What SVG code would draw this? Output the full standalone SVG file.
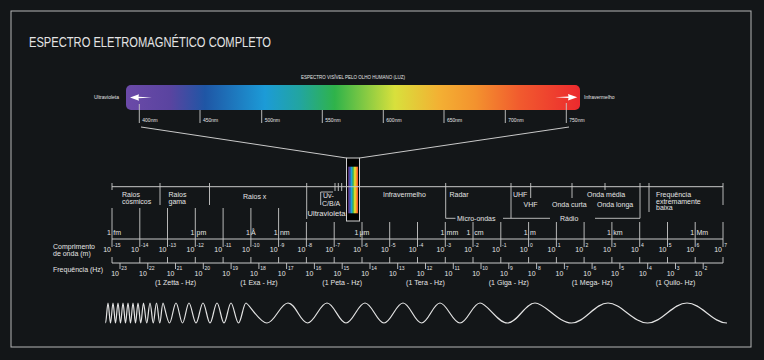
<svg xmlns="http://www.w3.org/2000/svg" width="764" height="360" viewBox="0 0 764 360">
<defs>
<style>
.t{font-family:"Liberation Sans",Arial,sans-serif;fill:#e4e4e4}
.s5{font-size:5px}
.s7{font-size:7px}
.e{font-size:5px}
.ln{stroke:#c9c9c9;stroke-width:1;fill:none}
.tk{stroke:#c9c9c9;stroke-width:0.9;fill:none}
</style>
<linearGradient id="vis" x1="0" y1="0" x2="1" y2="0">
<stop offset="0" stop-color="#6b4aa8"/>
<stop offset="0.097" stop-color="#5a44a0"/>
<stop offset="0.174" stop-color="#1f56a5"/>
<stop offset="0.306" stop-color="#1c9bd7"/>
<stop offset="0.383" stop-color="#22a5a0"/>
<stop offset="0.46" stop-color="#2fb34a"/>
<stop offset="0.592" stop-color="#d8e03c"/>
<stop offset="0.69" stop-color="#f3b033"/>
<stop offset="0.77" stop-color="#f3922e"/>
<stop offset="0.868" stop-color="#f15a2e"/>
<stop offset="1" stop-color="#ec2a2e"/>
</linearGradient>
<linearGradient id="rb" x1="0" y1="0" x2="1" y2="0">
<stop offset="0" stop-color="#7b3f9d"/>
<stop offset="0.17" stop-color="#3052a6"/>
<stop offset="0.33" stop-color="#1f9fd8"/>
<stop offset="0.5" stop-color="#3bb14a"/>
<stop offset="0.67" stop-color="#f2e42c"/>
<stop offset="0.83" stop-color="#f49a2a"/>
<stop offset="1" stop-color="#ef3f2b"/>
</linearGradient>
</defs>
<rect x="0" y="0" width="764" height="360" fill="#131618"/>
<rect x="11" y="11" width="740" height="336" fill="none" stroke="#b5b5b5" stroke-width="1"/>

<g id="title">
<text class="t" x="29" y="47" font-size="14" textLength="242" lengthAdjust="spacingAndGlyphs" fill="#f2f2f2">ESPECTRO ELETROMAGNÉTICO COMPLETO</text>
</g>

<g id="visible-spectrum">
<text class="t s5" x="301" y="79.3" textLength="104" lengthAdjust="spacingAndGlyphs">ESPECTRO VISÍVEL PELO OLHO HUMANO (LUZ)</text>
<rect x="126" y="85" width="454" height="25" rx="5" fill="url(#vis)"/>
<polygon points="152,97.5 138.5,96.7 139,94.3 130,97.5 139,100.7 138.5,98.3" fill="#ffffff"/>
<polygon points="555,97.3 568.5,96.5 568,94.1 577.3,97.3 568,100.5 568.5,98.1" fill="#ffffff"/>
<text class="t s5" x="94" y="99">Ultravioleta</text>
<text class="t s5" x="584" y="99">Infravermelho</text>
<g class="tk">
<line x1="139.3" y1="104" x2="139.3" y2="123"/>
<line x1="200" y1="110" x2="200" y2="123"/>
<line x1="261.7" y1="110" x2="261.7" y2="123"/>
<line x1="322.3" y1="110" x2="322.3" y2="123"/>
<line x1="383.3" y1="110" x2="383.3" y2="123"/>
<line x1="444" y1="110" x2="444" y2="123"/>
<line x1="505.3" y1="110" x2="505.3" y2="123"/>
<line x1="566.3" y1="103" x2="566.3" y2="123"/>
</g>
<text class="t s5" x="142.3" y="121.7">400nm</text>
<text class="t s5" x="203" y="121.7">450nm</text>
<text class="t s5" x="264.7" y="121.7">500nm</text>
<text class="t s5" x="325.3" y="121.7">550nm</text>
<text class="t s5" x="386.3" y="121.7">600nm</text>
<text class="t s5" x="447" y="121.7">650nm</text>
<text class="t s5" x="508.3" y="121.7">700nm</text>
<text class="t s5" x="569.3" y="121.7">750nm</text>
</g>

<g id="prism">
<rect x="346.5" y="158" width="13" height="63" fill="#000" stroke="#cfcfcf" stroke-width="1"/>
<rect x="348.3" y="166.7" width="9.7" height="46.6" fill="url(#rb)"/>
</g>

<g id="connectors">
<line class="ln" x1="141" y1="127" x2="346.5" y2="158"/>
<line class="ln" x1="569" y1="127" x2="359.5" y2="158"/>
<line class="ln" x1="112" y1="186.7" x2="723" y2="186.7"/>
<g class="tk">
<line x1="112" y1="183" x2="112" y2="190"/>
<line x1="160" y1="183" x2="160" y2="205"/>
<line x1="209.5" y1="183" x2="209.5" y2="205"/>
<line x1="306.7" y1="183" x2="306.7" y2="219"/>
<line x1="335" y1="183" x2="335" y2="191"/>
<line x1="338.3" y1="183" x2="338.3" y2="191"/>
<line x1="341.7" y1="183" x2="341.7" y2="191"/>
<path d="M333,192 H320.7 V205"/>
<path d="M445.7,183 V218.3 H455.5"/>
<path d="M503,218.3 H511 V183"/>
<line x1="511" y1="218.3" x2="550" y2="218.3"/>
<path d="M595,218.3 H640 V183"/>
<line x1="530.7" y1="183" x2="530.7" y2="198"/>
<line x1="572" y1="183" x2="572" y2="198"/>
<line x1="605" y1="183" x2="605" y2="190"/>
<line x1="649" y1="183" x2="649" y2="212"/>
<line x1="723" y1="183" x2="723" y2="205"/>
</g>
<line class="ln" x1="112" y1="239" x2="723" y2="239"/>
<line class="ln" x1="112" y1="263" x2="723" y2="263"/>
<g class="tk">
<path d="M112,208V247M139.8,208V247M167.5,208V247M195.3,208V247M223.1,208V247M250.9,208V247M278.6,208V247M306.4,222V247M334.2,222V247M362,222V247M389.7,222V247M417.5,222V247M445.3,222V247M473,222V247M500.8,222V247M528.6,222V247M556.4,222V247M584.1,222V247M611.9,222V247M639.7,222V247M667.5,222V247M695.2,222V247M723,222V247"/>
<path d="M112,257V263M139.8,257V263M167.5,257V263M195.3,257V263M223.1,257V263M250.9,257V263M278.6,257V263M306.4,257V263M334.2,257V263M362,257V263M389.7,257V263M417.5,257V263M445.3,257V263M473,257V263M500.8,257V263M528.6,257V263M556.4,257V263M584.1,257V263M611.9,257V263M639.7,257V263M667.5,257V263M695.2,257V263M723,257V263"/>
<path d="M120,263V269M147.8,263V269M175.5,263V269M203.3,263V269M231.1,263V269M258.9,263V269M286.6,263V269M314.4,263V269M342.2,263V269M370,263V269M397.7,263V269M425.5,263V269M453.3,263V269M481,263V269M508.8,263V269M536.6,263V269M564.4,263V269M592.1,263V269M619.9,263V269M647.7,263V269M675.5,263V269M703.2,263V269"/>
</g>
</g>

<g id="bands" class="t s7">
<g id="raios-cosmicos"><text x="122" y="197">Raios</text><text x="122" y="204">cósmicos</text></g>
<g id="raios-gama"><text x="168.5" y="197">Raios</text><text x="168.5" y="204">gama</text></g>
<g id="raios-x"><text x="243" y="199">Raios x</text></g>
<g id="uv-cba"><text x="323" y="198">Uv-</text><text x="322" y="205.5">C/B/A</text></g>
<g id="ultravioleta"><text x="307.5" y="216" textLength="38" lengthAdjust="spacingAndGlyphs">Ultravioleta</text></g>
<g id="infravermelho"><text x="383" y="197">Infravermelho</text></g>
<g id="radar"><text x="449.5" y="197">Radar</text></g>
<g id="micro-ondas"><text x="457" y="220.5">Micro-ondas</text></g>
<g id="uhf"><text x="513" y="197">UHF</text></g>
<g id="vhf"><text x="523.5" y="207">VHF</text></g>
<g id="onda-curta"><text x="552" y="207">Onda curta</text></g>
<g id="onda-media"><text x="587" y="197">Onda média</text></g>
<g id="onda-longa"><text x="597" y="207">Onda longa</text></g>
<g id="radio"><text x="560" y="220.5">Rádio</text></g>
<g id="freq-baixa"><text x="656" y="197">Frequência</text><text x="656" y="203.5">extremamente</text><text x="656" y="210">baixa</text></g>
</g>

<g id="units" class="t s7">
<text x="111" y="235" text-anchor="end">1</text><text x="113.3" y="235">fm</text>
<text x="194.3" y="235" text-anchor="end">1</text><text x="196.6" y="235">pm</text>
<text x="249.9" y="235" text-anchor="end">1</text><text x="251" y="235">Å</text>
<text x="277.6" y="235" text-anchor="end">1</text><text x="279.9" y="235">nm</text>
<text x="358.5" y="235" text-anchor="end">1</text><text x="359.5" y="235">μm</text>
<text x="444.3" y="235" text-anchor="end">1</text><text x="446.6" y="235">mm</text>
<text x="470.5" y="235" text-anchor="end">1</text><text x="474.3" y="235">cm</text>
<text x="527.6" y="235" text-anchor="end">1</text><text x="529.9" y="235">m</text>
<text x="610.9" y="235" text-anchor="end">1</text><text x="613.2" y="235">km</text>
<text x="694.2" y="235" text-anchor="end">1</text><text x="696.5" y="235">Mm</text>
</g>

<g id="wavelength-scale" class="t">
<text class="s7" x="53" y="249">Comprimento</text>
<text class="s7" x="53" y="255.5">de onda (m)</text>
<g class="s7" text-anchor="end">
<text x="111" y="252">10</text><text x="138.8" y="252">10</text><text x="166.5" y="252">10</text><text x="194.3" y="252">10</text><text x="222.1" y="252">10</text><text x="249.9" y="252">10</text><text x="277.6" y="252">10</text><text x="305.4" y="252">10</text><text x="333.2" y="252">10</text><text x="361" y="252">10</text><text x="388.7" y="252">10</text><text x="416.5" y="252">10</text><text x="444.3" y="252">10</text><text x="472" y="252">10</text><text x="499.8" y="252">10</text><text x="527.6" y="252">10</text><text x="555.4" y="252">10</text><text x="583.1" y="252">10</text><text x="610.9" y="252">10</text><text x="638.7" y="252">10</text><text x="666.5" y="252">10</text><text x="694.2" y="252">10</text><text x="722" y="252">10</text>
</g>
<g class="e">
<text x="113.3" y="246.5">-15</text><text x="141.1" y="246.5">-14</text><text x="168.8" y="246.5">-13</text><text x="196.6" y="246.5">-12</text><text x="224.4" y="246.5">-11</text><text x="252.2" y="246.5">-10</text><text x="279.9" y="246.5">-9</text><text x="307.7" y="246.5">-8</text><text x="335.5" y="246.5">-7</text><text x="363.3" y="246.5">-6</text><text x="391" y="246.5">-5</text><text x="418.8" y="246.5">-4</text><text x="446.6" y="246.5">-3</text><text x="474.3" y="246.5">-2</text><text x="502.1" y="246.5">-1</text><text x="529.9" y="246.5">0</text><text x="557.7" y="246.5">1</text><text x="585.4" y="246.5">2</text><text x="613.2" y="246.5">3</text><text x="641" y="246.5">4</text><text x="668.8" y="246.5">5</text><text x="696.5" y="246.5">6</text><text x="724.3" y="246.5">7</text>
</g>
</g>

<g id="frequency-scale" class="t">
<text class="s7" x="53" y="271.5">Frequência (Hz)</text>
<g class="s7" text-anchor="end">
<text x="119" y="275.5">10</text><text x="146.8" y="275.5">10</text><text x="174.5" y="275.5">10</text><text x="202.3" y="275.5">10</text><text x="230.1" y="275.5">10</text><text x="257.9" y="275.5">10</text><text x="285.6" y="275.5">10</text><text x="313.4" y="275.5">10</text><text x="341.2" y="275.5">10</text><text x="369" y="275.5">10</text><text x="396.7" y="275.5">10</text><text x="424.5" y="275.5">10</text><text x="452.3" y="275.5">10</text><text x="480" y="275.5">10</text><text x="507.8" y="275.5">10</text><text x="535.6" y="275.5">10</text><text x="563.4" y="275.5">10</text><text x="591.1" y="275.5">10</text><text x="618.9" y="275.5">10</text><text x="646.7" y="275.5">10</text><text x="674.5" y="275.5">10</text><text x="702.2" y="275.5">10</text>
</g>
<g class="e">
<text x="121.3" y="270">23</text><text x="149.1" y="270">22</text><text x="176.8" y="270">21</text><text x="204.6" y="270">20</text><text x="232.4" y="270">19</text><text x="260.2" y="270">18</text><text x="287.9" y="270">17</text><text x="315.7" y="270">16</text><text x="343.5" y="270">15</text><text x="371.3" y="270">14</text><text x="399" y="270">13</text><text x="426.8" y="270">12</text><text x="454.6" y="270">11</text><text x="482.3" y="270">10</text><text x="510.1" y="270">9</text><text x="537.9" y="270">8</text><text x="565.7" y="270">7</text><text x="593.4" y="270">6</text><text x="621.2" y="270">5</text><text x="649" y="270">4</text><text x="676.8" y="270">3</text><text x="704.5" y="270">2</text>
</g>
<g class="s7" text-anchor="middle">
<text x="175.5" y="285">(1 Zetta - Hz)</text>
<text x="258.9" y="285">(1 Exa - Hz)</text>
<text x="342.2" y="285">(1 Peta - Hz)</text>
<text x="425.5" y="285">(1 Tera - Hz)</text>
<text x="508.8" y="285">(1 Giga - Hz)</text>
<text x="592.1" y="285">(1 Mega- Hz)</text>
<text x="675.5" y="285">(1 Quilo- Hz)</text>
</g>
</g>

<g id="wave">
<path fill="none" stroke="#e2e2e2" stroke-width="1.2" stroke-linejoin="round" d="M105.5,323 C106.4,323 107.1,303 108,303 S109.6,323 110.5,323 S112.1,303 113,303 S114.6,323 115.5,323 S117.1,303 118,303 S119.6,323 120.5,323 S122.1,303 123,303 S124.6,323 125.5,323 S127.1,303 128,303 S129.6,323 130.5,323 S132.1,303 133,303 S134.6,323 135.5,323 S137.1,303 138,303 S139.76,323 140.75,323 S142.5,303 143.5,303 S145.6,323 146.75,323 S148.8,303 150,303 S152.1,323 153.25,323 S155.3,303 156.5,303 S158.6,323 159.75,323 S161.8,303 163,303 S167.2,323 169.5,323 S173.7,303 176,303 S180.2,323 182.5,323 S186.7,303 189,303 S193.5,323 196,323 S200.5,303 203,303 S207.5,323 210,323 S214.5,303 217,303 S221.5,323 224,323 S228.5,303 231,303 S235.8,323 238.5,323 S243.3,303 246,303 S259.4,323 267,323 S280.4,303 288,303 S300.5,323 307.5,323 S320,303 327,303 S339.2,323 346,323 S358.2,303 365,303 S377.2,323 384,323 S396.2,303 403,303 S414.8,323 421.5,323 S433.3,303 440,303 S452.8,323 460,323 S472.8,303 480,303 S497.6,323 507.5,323 S525.1,303 535,303 S558.4,323 571.5,323 S594.9,303 608,303 S633.3,323 647.5,323 S672.8,303 687,303 S712.6,323 727,323"/>
</g>
</svg>
